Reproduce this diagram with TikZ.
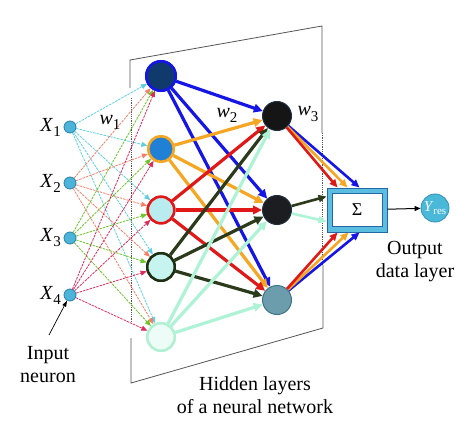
\documentclass[tikz,border=0pt]{standalone}
\usepackage{fontspec}
\setmainfont{Liberation Serif}
\usetikzlibrary{arrows.meta,calc}
\definecolor{inpfill}{HTML}{4BB4D8}
\definecolor{inpdraw}{HTML}{2A7FA8}
\definecolor{cx1}{HTML}{5DCFE0}
\definecolor{cx2}{HTML}{F4806A}
\definecolor{cx3}{HTML}{6CC42A}
\definecolor{cx4}{HTML}{E0285A}
\definecolor{cb}{HTML}{1515E6}
\definecolor{co}{HTML}{F5A623}
\definecolor{cr}{HTML}{E01818}
\definecolor{cg}{HTML}{2B3A1A}
\definecolor{cm}{HTML}{AEF3D6}
\definecolor{planec}{HTML}{555555}
\definecolor{boxfill}{HTML}{5BBDE0}
\definecolor{boxdraw}{HTML}{2367A5}
\definecolor{f11}{HTML}{0F3A6B}
\definecolor{f12}{HTML}{1F80D6}
\definecolor{f13}{HTML}{B8ECEF}
\definecolor{f14}{HTML}{C8F4EF}
\definecolor{f15}{HTML}{EEFCF8}
\definecolor{d14}{HTML}{1E2E12}
\definecolor{d15}{HTML}{B2F0D4}
\definecolor{f21}{HTML}{151515}
\definecolor{f22}{HTML}{1B1D21}
\definecolor{f23}{HTML}{6C9DAD}
\definecolor{d21}{HTML}{1F2F3F}
\definecolor{d23}{HTML}{3E7489}
\definecolor{yfill}{HTML}{4AB8D8}
\definecolor{ydraw}{HTML}{3592B5}
\begin{document}
\begin{tikzpicture}[x=1pt,y=-1pt,
  inp/.style={circle,draw=inpdraw,fill=inpfill,line width=0.8pt,minimum size=12pt,inner sep=0pt},
  hid/.style={circle,line width=2.5pt,minimum size=27.5pt,inner sep=0pt},
  hidb/.style={circle,line width=1pt,minimum size=29pt,inner sep=0pt},
  thinarr/.style={line width=0.8pt,dash pattern=on 2.5pt off 1pt,-{Triangle[length=6pt,width=5pt]}},
  fatarr/.style={line width=3.2pt,-{Triangle[length=9pt,width=8.5pt]}},
  outarr/.style={line width=2.6pt,-{Triangle[length=8pt,width=7pt]}},
  planeline/.style={draw=planec,line width=0.8pt},
  lbl/.style={font=\fontsize{20}{23}\selectfont,inner sep=0pt,align=center},
  sub/.style={},
]
\useasboundingbox (0,0) rectangle (474,441);
% plane
\draw[planeline] (130,88) -- (130,60) -- (322,26) -- (322,133);
\draw[planeline,densely dotted] (131,98) -- (131,323);
\draw[planeline] (131,338) -- (131,383) -- (323,328) -- (323,265);
\draw[planeline,densely dotted] (322,133) -- (322,265);
% input nodes
\node[inp] (x1) at (70,127) {};
\node[inp] (x2) at (70,183) {};
\node[inp] (x3) at (70,238) {};
\node[inp] (x4) at (70,295) {};
% hidden 1
\node[hid,draw=cb,fill=f11,minimum size=29.5pt] (h11) at (161,76) {};
\node[hid,draw=co,fill=f12,minimum size=25.5pt] (h12) at (161,149) {};
\node[hid,draw=cr,fill=f13,minimum size=26.5pt] (h13) at (161,210) {};
\node[hid,draw=d14,fill=f14] (h14) at (161,267) {};
\node[hid,draw=d15,fill=f15] (h15) at (161,337) {};
% hidden 2
\node[hidb,draw=d21,fill=f21] (h21) at (277,116) {};
\node[hidb,draw=d21,fill=f22] (h22) at (277,210) {};
\node[hidb,draw=d23,fill=f23] (h23) at (277,300) {};
% sum box
\node[draw=boxdraw,fill=boxfill,line width=1pt,minimum width=60pt,minimum height=44pt,inner sep=0pt] (sum) at (357,210) {};
\node[draw=boxdraw,fill=white,line width=0.8pt,minimum width=50pt,minimum height=33pt,inner sep=0pt,font=\fontsize{18}{18}\selectfont] (sigma) at (357,209.5) {Σ};
% output node
\node[circle,draw=ydraw,fill=yfill,line width=0.8pt,minimum size=28pt,inner sep=0pt,text=white,font=\fontsize{15}{15}\selectfont] (y) at (435,208) {\textit{Y}\raisebox{-0.4ex}{\fontsize{11}{11}\selectfont res}};
% input -> hidden 1
\foreach \i in {1,2,3,4} {
  \foreach \j in {1,...,5} {
    \draw[thinarr,color=cx\i] (x\i) -- (h1\j);
  }
}
% hidden 1 -> hidden 2
\foreach \j/\c in {1/cb,2/co,3/cr,4/cg,5/cm} {
  \foreach \k in {1,2,3} {
    \draw[fatarr,color=\c] (h1\j) -- (h2\k);
  }
}
% re-draw hidden nodes on top
\node[hid,draw=cb,fill=f11,minimum size=29.5pt] at (161,76) {};
\node[hid,draw=co,fill=f12,minimum size=25.5pt] at (161,149) {};
\node[hid,draw=cr,fill=f13,minimum size=26.5pt] at (161,210) {};
\node[hid,draw=d14,fill=f14] at (161,267) {};
\node[hid,draw=d15,fill=f15] at (161,337) {};
% hidden 2 -> sum
\coordinate (t1) at ($(sum.north west)+(11,0)$);
\coordinate (t2) at ($(sum.north west)+(21,0)$);
\coordinate (t3) at ($(sum.north west)+(33,0)$);
\coordinate (b1) at ($(sum.south west)+(11,0)$);
\coordinate (b2) at ($(sum.south west)+(22,0)$);
\coordinate (b3) at ($(sum.south west)+(33,0)$);
\coordinate (l1) at ($(sum.north west)+(0,9)$);
\coordinate (l2) at ($(sum.north west)+(0,34)$);
\draw[outarr,color=cb] (h21) -- (t3);
\draw[outarr,color=co] (h21) -- (t2);
\draw[outarr,color=cr] (h21) -- (t1);
\draw[outarr,color=cg] (h22) -- (l1);
\draw[outarr,color=cm] (h22) -- (l2);
\draw[outarr,color=cb] (h23) -- (b3);
\draw[outarr,color=co] (h23) -- (b2);
\draw[outarr,color=cr] (h23) -- (b1);
% sum -> output
\draw[line width=1pt,-{Triangle[length=6pt,width=5pt]}] (sum) -- (y);
% labels
\node[lbl,anchor=east] (lx1) at (61,127) {\textit{X}\raisebox{-0.55ex}{\fontsize{15}{15}\selectfont 1}};
\node[lbl,anchor=east] (lx2) at (61,183) {\textit{X}\raisebox{-0.55ex}{\fontsize{15}{15}\selectfont 2}};
\node[lbl,anchor=east] (lx3) at (61,238) {\textit{X}\raisebox{-0.55ex}{\fontsize{15}{15}\selectfont 3}};
\node[lbl,anchor=east] (lx4) at (61,295) {\textit{X}\raisebox{-0.55ex}{\fontsize{15}{15}\selectfont 4}};
\node[lbl] (w1) at (110,122) {\textit{w}\raisebox{-0.55ex}{\fontsize{15}{15}\selectfont 1}};
\node[lbl] (w2) at (227,115) {\textit{w}\raisebox{-0.55ex}{\fontsize{15}{15}\selectfont 2}};
\node[lbl] (w3) at (308,114) {\textit{w}\raisebox{-0.55ex}{\fontsize{15}{15}\selectfont 3}};
\node[lbl] (inlbl) at (48,365) {Input\\neuron};
\coordinate (inptail) at (49,335);
\draw[line width=0.7pt,-{Triangle[length=6pt,width=4pt]}] (inptail) -- (x4);
\node[lbl] (hidlbl) at (255,395) {Hidden layers\\of a neural network};
\node[lbl] (outlbl) at (415,262) {Output\\data layer};
\end{tikzpicture}
\end{document}
